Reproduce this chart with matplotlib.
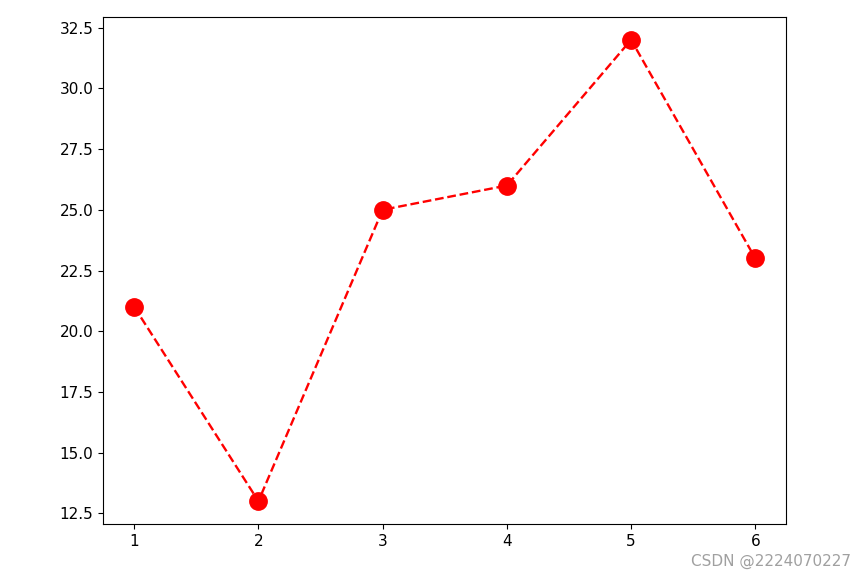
import matplotlib
matplotlib.use("Agg")
import matplotlib.pyplot as plt

x = [1, 2, 3, 4, 5, 6]
y = [21, 13, 25, 26, 32, 23]

fig = plt.figure(figsize=(8.67, 5.78), dpi=100)
ax = fig.add_axes([0.119, 0.093, 0.788, 0.878])
ax.plot(x, y, color='red', linestyle='--', marker='o', markersize=12.5, linewidth=1.7)
ax.tick_params(labelsize=11)

fig.text(0.981, 0.016, 'CSDN @2224070227', ha='right', va='bottom',
         fontsize=11, color='#a0a0a0')

fig.savefig('out.png', dpi=100)
